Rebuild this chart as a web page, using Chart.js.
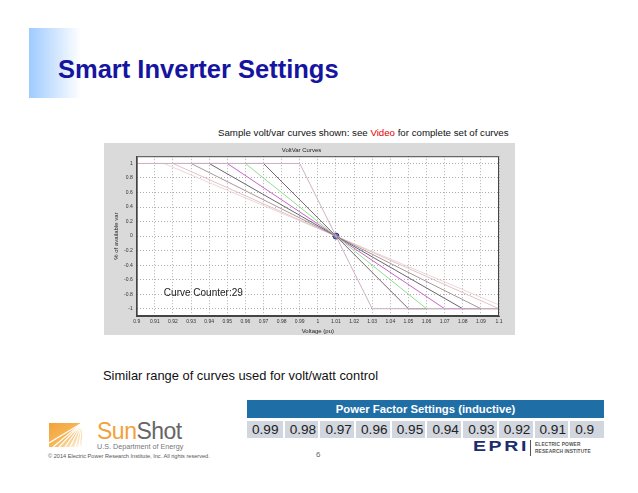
<!DOCTYPE html>
<html>
<head>
<meta charset="utf-8">
<title>Smart Inverter Settings</title>
<script src="https://cdn.jsdelivr.net/npm/chart.js@4.4.1/dist/chart.umd.min.js"></script>
<style>
  html, body { margin: 0; padding: 0; background: #fff; }
  body { width: 638px; height: 493px; position: relative; overflow: hidden; font-family: "Liberation Sans", Arial, sans-serif; }
  .abs { position: absolute; white-space: nowrap; }
  #bar { left: 29px; top: 28px; width: 52px; height: 70px; background: linear-gradient(to right, #9fcbff, #ffffff); }
  #title { left: 58px; top: 55px; font-size: 25.5px; font-weight: bold; color: #1515a0; }
  #sub { left: 218px; top: 127px; font-size: 9.7px; color: #111; }
  #sub span { color: #e00000; }
  #chartBox { left: 104px; top: 143px; width: 411px; height: 192px; }
  #similar { left: 103px; top: 368px; font-size: 12.9px; color: #111; }
  #pf { left: 247px; top: 400px; width: 357px; border-collapse: separate; border-spacing: 0; table-layout: fixed; }
  #pf th { background: #206ea6; color: #fff; font-size: 11.3px; font-weight: bold; height: 18px; padding: 0; text-align: center; }
  #pf td { box-sizing: border-box; background: #d1d6df; color: #222; font-size: 13.6px; height: 20px; padding: 0 0 0 5px; border-left: 2px solid #fff; border-top: 3px solid #fff; overflow: hidden; }
  #pf td:first-child { border-left: none; }
  #page { left: 316px; top: 450px; font-size: 8px; color: #666; }
  #epri { left: 473px; top: 437px; font-size: 15px; font-weight: bold; color: #1b2d6e; letter-spacing: 2px; transform: scaleX(1.3); transform-origin: left top; }
  #epriSep { left: 530px; top: 440px; width: 1px; height: 16px; background: #555; }
  #epriTxt { left: 535px; top: 441px; font-size: 4.8px; line-height: 7px; color: #555; letter-spacing: 0.15px; font-weight: bold; }
  #sunText { left: 97px; top: 418px; font-size: 23px; color: #666; letter-spacing: -0.5px; }
  #sunText span { color: #f2a23a; }
  #doe { left: 97px; top: 442px; font-size: 7.2px; color: #777; }
  #copy { left: 48px; top: 453px; font-size: 5.6px; color: #555; }
  #sun { left: 49px; top: 423px; }
</style>
</head>
<body>
<div id="bar" class="abs"></div>
<div id="title" class="abs">Smart Inverter Settings</div>
<div id="sub" class="abs">Sample volt/var curves shown: see <span>Video</span> for complete set of curves</div>
<div id="chartBox" class="abs"><canvas id="Chart01"></canvas></div>
<div id="similar" class="abs">Similar range of curves used for volt/watt control</div>
<table id="pf" class="abs">
  <thead><tr><th id="pfHead" colspan="10">Power Factor Settings (inductive)</th></tr></thead>
  <tbody><tr id="pfRow"></tr></tbody>
</table>
<div id="page" class="abs">6</div>
<div id="epri" class="abs">EPRI</div>
<div id="epriSep" class="abs"></div>
<div id="epriTxt" class="abs">ELECTRIC POWER<br>RESEARCH INSTITUTE</div>
<svg id="sun" class="abs" width="34" height="25" viewBox="0 0 34 25">
  <defs>
    <linearGradient id="sg" x1="0" y1="0" x2="1" y2="1">
      <stop offset="0" stop-color="#f2a23a"/>
      <stop offset="0.55" stop-color="#f6b85a"/>
      <stop offset="1" stop-color="#ffffff"/>
    </linearGradient>
  </defs>
  <rect x="0" y="0" width="33" height="24" fill="url(#sg)"/>
  <g stroke="#fff" stroke-width="1.2">
    <line x1="33" y1="0" x2="0" y2="20"/>
    <line x1="33" y1="0" x2="4" y2="24"/>
    <line x1="33" y1="0" x2="10" y2="24"/>
    <line x1="33" y1="0" x2="16" y2="24"/>
    <line x1="33" y1="0" x2="21" y2="24"/>
    <line x1="33" y1="0" x2="26" y2="24"/>
    <line x1="33" y1="0" x2="30" y2="24"/>
  </g>
</svg>
<div id="sunText" class="abs"><span>Sun</span>Shot</div>
<div id="doe" class="abs">U.S. Department of Energy</div>
<div id="copy" class="abs">© 2014 Electric Power Research Institute, Inc. All rights reserved.</div>

<script>
/* Data */
const xTicks = [0.9, 0.91, 0.92, 0.93, 0.94, 0.95, 0.96, 0.97, 0.98, 0.99, 1,
                1.01, 1.02, 1.03, 1.04, 1.05, 1.06, 1.07, 1.08, 1.09, 1.1];
const yTicks = [-1, -0.8, -0.6, -0.4, -0.2, 0, 0.2, 0.4, 0.6, 0.8, 1];

// each curve: flat at +1 from plateauStart to kneeLow, straight down to -1 at kneeHigh, flat to plateauEnd
const curveNames   = ['c1', 'c2', 'c3', 'c4', 'c5', 'c6', 'c7', 'c8'];
const plateauStart = [0.9,  0.96, 0.95, 0.94, 0.93, 0.92, 0.9,  0.905];
const kneeLow      = [0.99, 0.97, 0.96, 0.95, 0.94, 0.93, 0.92, 0.915];
const kneeHigh     = [1.03, 1.05, 1.06, 1.07, 1.08, 1.09, 1.10, 1.105];
const plateauEnd   = [1.1,  1.06, 1.07, 1.08, 1.09, 1.1,  1.1,  1.1];
const varMax = 1;
const varMin = -1;

const centerV = [1.01];
const centerQ = [0];

const curveCounter = 29;
const pfSettings = ['0.99', '0.98', '0.97', '0.96', '0.95', '0.94', '0.93', '0.92', '0.91', '0.9'];

/* Styles */
const curveColors = ['#cdb0c4', '#776870', '#8fdf8f', '#c865c8', '#6c6470', '#a89797', '#e3c3c8', '#ead8d8'];
const pfCellWidths = [37, 40, 38, 37, 32, 36, 34, 34, 34, 35];

/* Table */
const pfRow = document.getElementById('pfRow');
pfSettings.forEach((v, i) => {
  const td = document.createElement('td');
  td.textContent = v;
  td.style.width = pfCellWidths[i] + 'px';
  pfRow.appendChild(td);
});

/* Chart */
const datasets = curveNames.map((name, i) => ({
  label: name,
  data: [
    {x: plateauStart[i], y: varMax},
    {x: kneeLow[i], y: varMax},
    {x: kneeHigh[i], y: varMin},
    {x: plateauEnd[i], y: varMin}
  ],
  showLine: true,
  borderColor: curveColors[i],
  borderWidth: 1,
  pointRadius: 0,
  fill: false
}));
datasets.push({
  label: 'center',
  data: centerV.map((v, i) => ({x: v, y: centerQ[i]})),
  showLine: false,
  pointRadius: 3,
  backgroundColor: '#7474b4',
  borderColor: '#2e2e78',
  borderWidth: 1
});

const figurePlugin = {
  id: 'figure',
  beforeDraw(chart) {
    const {ctx, chartArea: a} = chart;
    ctx.save();
    ctx.fillStyle = '#dadada';
    ctx.fillRect(0, 0, chart.width, chart.height);
    ctx.fillStyle = '#ffffff';
    ctx.fillRect(a.left, a.top, a.right - a.left, a.bottom - a.top);
    ctx.restore();
  },
  afterDraw(chart) {
    const {ctx, chartArea: a, scales} = chart;
    ctx.save();
    ctx.strokeStyle = '#444';
    ctx.lineWidth = 1;
    ctx.strokeRect(a.left + 0.5, a.top + 0.5, a.right - a.left - 1, a.bottom - a.top - 1);
    ctx.fillStyle = '#222';
    ctx.font = '10px "Liberation Sans", Arial, sans-serif';
    ctx.textBaseline = 'middle';
    ctx.fillText('Curve Counter:' + curveCounter, scales.x.getPixelForValue(0.915), scales.y.getPixelForValue(-0.79));
    ctx.restore();
  }
};

const tickFont = {family: '"Liberation Sans", Arial, sans-serif', size: 5};
const config01 = {
  type: 'scatter',
  data: {datasets: datasets},
  options: {
    responsive: true,
    maintainAspectRatio: false,
    animation: false,
    layout: {padding: {left: 0, right: 16, top: 0, bottom: 0}},
    plugins: {
      legend: {display: false},
      tooltip: {enabled: false},
      title: {display: true, text: 'VoltVar Curves', color: '#222',
              font: {family: '"Liberation Sans", Arial, sans-serif', size: 6, weight: 'normal'},
              padding: {top: 4, bottom: 2}}
    },
    scales: {
      x: {
        min: 0.9, max: 1.1,
        afterBuildTicks: s => { s.ticks = xTicks.map(v => ({value: v})); },
        afterFit: s => { s.height = 19; },
        ticks: {autoSkip: false, maxRotation: 0, minRotation: 0, padding: 3, color: '#333', font: tickFont,
                callback: v => String(parseFloat(v.toFixed(2)))},
        grid: {color: '#9a9a9a', lineWidth: 0.8, drawTicks: false},
        border: {display: true, color: '#444', dash: [1, 2]},
        title: {display: true, text: 'Voltage (pu)', color: '#222', font: {family: tickFont.family, size: 6}, padding: 0}
      },
      y: {
        min: -1.1, max: 1.1,
        afterBuildTicks: s => { s.ticks = yTicks.map(v => ({value: v})); },
        afterFit: s => { s.width = 32.7; },
        ticks: {autoSkip: false, padding: 4, color: '#333', font: tickFont,
                callback: v => String(parseFloat(v.toFixed(1)))},
        grid: {color: '#9a9a9a', lineWidth: 0.8, drawTicks: false},
        border: {display: true, color: '#444', dash: [1, 2]},
        title: {display: true, text: '% of available var', color: '#222', font: {family: tickFont.family, size: 6},
                padding: {top: 9, bottom: 0}}
      }
    }
  },
  plugins: [figurePlugin]
};

const ctxch01 = document.getElementById('Chart01');
new Chart(ctxch01, config01);
</script>
</body>
</html>
